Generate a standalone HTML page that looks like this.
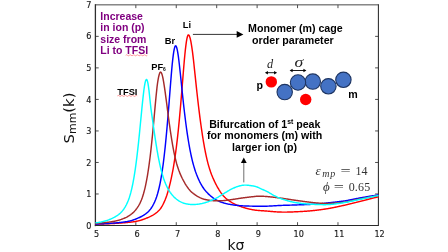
<!DOCTYPE html>
<html><head><meta charset="utf-8"><title>Structure factor</title>
<style>
html,body{margin:0;padding:0;background:#fff}
svg{display:block}
.dv{font-family:"DejaVu Sans","Liberation Sans",sans-serif}
.ab{font-family:"Liberation Sans",sans-serif;font-weight:bold}
.ms{font-family:"Liberation Serif","DejaVu Serif",serif}
</style></head><body>
<svg width="448" height="252" viewBox="0 0 448 252">
<rect width="448" height="252" fill="#fff"/>
<g stroke="#222" stroke-width="0.8" fill="none"><path d="M135.83,225.50 v-3.3 M135.83,4.85 v3.3"/><path d="M176.26,225.50 v-3.3 M176.26,4.85 v3.3"/><path d="M216.69,225.50 v-3.3 M216.69,4.85 v3.3"/><path d="M257.11,225.50 v-3.3 M257.11,4.85 v3.3"/><path d="M297.54,225.50 v-3.3 M297.54,4.85 v3.3"/><path d="M337.97,225.50 v-3.3 M337.97,4.85 v3.3"/><path d="M95.40,193.98 h3.3 M378.40,193.98 h-3.3"/><path d="M95.40,162.46 h3.3 M378.40,162.46 h-3.3"/><path d="M95.40,130.94 h3.3 M378.40,130.94 h-3.3"/><path d="M95.40,99.41 h3.3 M378.40,99.41 h-3.3"/><path d="M95.40,67.89 h3.3 M378.40,67.89 h-3.3"/><path d="M95.40,36.37 h3.3 M378.40,36.37 h-3.3"/></g>
<path d="M95.40,4.85 H378.40" fill="none" stroke="#4a4a4a" stroke-width="1"/>
<path d="M378.40,4.85 V225.50 H95.40" fill="none" stroke="#2a2a2a" stroke-width="1.05" stroke-linecap="square"/>
<path d="M95.40,225.50 V4.85" fill="none" stroke="#2e2e2e" stroke-width="1.3" stroke-linecap="square"/>
<g>
<path d="M95.40,224.19 L95.91,224.17 L96.41,224.16 L96.92,224.14 L97.42,224.13 L97.93,224.11 L98.43,224.10 L98.94,224.08 L99.44,224.07 L99.95,224.05 L100.45,224.03 L100.96,224.02 L101.46,224.00 L101.97,223.98 L102.48,223.96 L102.98,223.95 L103.49,223.93 L103.99,223.91 L104.50,223.89 L105.00,223.87 L105.51,223.85 L106.01,223.83 L106.52,223.81 L107.02,223.79 L107.53,223.77 L108.03,223.75 L108.54,223.72 L109.04,223.70 L109.55,223.68 L110.06,223.66 L110.56,223.63 L111.07,223.61 L111.57,223.58 L112.08,223.56 L112.58,223.53 L113.09,223.51 L113.59,223.48 L114.10,223.45 L114.60,223.42 L115.11,223.40 L115.61,223.37 L116.12,223.34 L116.63,223.31 L117.13,223.28 L117.64,223.24 L118.14,223.21 L118.65,223.18 L119.15,223.15 L119.66,223.11 L120.16,223.08 L120.67,223.04 L121.17,223.00 L121.68,222.97 L122.18,222.93 L122.69,222.89 L123.19,222.85 L123.70,222.81 L124.21,222.77 L124.71,222.72 L125.22,222.68 L125.72,222.63 L126.23,222.59 L126.73,222.54 L127.24,222.49 L127.74,222.44 L128.25,222.39 L128.75,222.34 L129.26,222.29 L129.76,222.23 L130.27,222.18 L130.78,222.12 L131.28,222.06 L131.79,222.00 L132.29,221.94 L132.80,221.87 L133.30,221.81 L133.81,221.74 L134.31,221.67 L134.82,221.60 L135.32,221.51 L135.83,221.43 L136.33,221.33 L136.84,221.23 L137.34,221.12 L137.85,221.01 L138.36,220.89 L138.86,220.76 L139.37,220.63 L139.87,220.49 L140.38,220.34 L140.88,220.19 L141.39,220.03 L141.89,219.87 L142.40,219.70 L142.90,219.53 L143.41,219.35 L143.91,219.16 L144.42,218.97 L144.93,218.78 L145.43,218.58 L145.94,218.38 L146.44,218.18 L146.95,217.97 L147.45,217.76 L147.96,217.55 L148.46,217.33 L148.97,217.11 L149.47,216.88 L149.98,216.65 L150.48,216.40 L150.99,216.15 L151.49,215.89 L152.00,215.62 L152.51,215.34 L153.01,215.05 L153.52,214.75 L154.02,214.43 L154.53,214.10 L155.03,213.75 L155.54,213.39 L156.04,213.01 L156.55,212.61 L157.05,212.20 L157.56,211.75 L158.06,211.29 L158.57,210.80 L159.08,210.28 L159.58,209.73 L160.09,209.13 L160.59,208.46 L161.10,207.74 L161.60,206.96 L162.11,206.12 L162.61,205.21 L163.12,204.25 L163.62,203.24 L164.13,202.16 L164.63,201.04 L165.14,199.85 L165.64,198.56 L166.15,197.19 L166.66,195.73 L167.16,194.18 L167.67,192.54 L168.17,190.83 L168.68,189.03 L169.18,187.14 L169.69,185.16 L170.19,183.07 L170.70,180.88 L171.20,178.60 L171.71,176.21 L172.21,173.69 L172.72,171.05 L173.23,168.27 L173.73,165.33 L174.24,162.23 L174.74,158.95 L175.25,155.49 L175.75,151.83 L176.26,147.97 L176.76,143.89 L177.27,139.59 L177.77,135.08 L178.28,130.33 L178.78,125.34 L179.29,120.12 L179.79,114.68 L180.30,109.03 L180.81,103.18 L181.31,97.15 L181.82,90.98 L182.32,84.73 L182.83,78.45 L183.33,72.19 L183.84,66.01 L184.34,60.14 L184.85,54.74 L185.35,49.91 L185.86,45.60 L186.36,41.91 L186.87,38.92 L187.38,36.73 L187.88,35.37 L188.39,34.90 L188.89,35.17 L189.40,36.00 L189.90,37.38 L190.41,39.29 L190.91,41.69 L191.42,44.54 L191.92,47.81 L192.43,51.43 L192.93,55.38 L193.44,59.68 L193.94,64.28 L194.45,69.07 L194.96,73.90 L195.46,78.69 L195.97,83.43 L196.47,88.11 L196.98,92.71 L197.48,97.23 L197.99,101.67 L198.49,105.98 L199.00,110.14 L199.50,114.17 L200.01,118.06 L200.51,121.85 L201.02,125.52 L201.53,129.08 L202.03,132.52 L202.54,135.82 L203.04,138.99 L203.55,142.03 L204.05,144.96 L204.56,147.77 L205.06,150.45 L205.57,153.00 L206.07,155.42 L206.58,157.70 L207.08,159.86 L207.59,161.91 L208.09,163.84 L208.60,165.65 L209.11,167.37 L209.61,168.99 L210.12,170.53 L210.62,172.01 L211.13,173.41 L211.63,174.74 L212.14,176.01 L212.64,177.23 L213.15,178.40 L213.65,179.54 L214.16,180.66 L214.66,181.74 L215.17,182.79 L215.68,183.80 L216.18,184.78 L216.69,185.73 L217.19,186.65 L217.70,187.54 L218.20,188.40 L218.71,189.24 L219.21,190.06 L219.72,190.85 L220.22,191.62 L220.73,192.36 L221.23,193.08 L221.74,193.77 L222.24,194.43 L222.75,195.07 L223.26,195.68 L223.76,196.25 L224.27,196.80 L224.77,197.32 L225.28,197.81 L225.78,198.28 L226.29,198.72 L226.79,199.14 L227.30,199.55 L227.80,199.93 L228.31,200.30 L228.81,200.66 L229.32,201.00 L229.83,201.33 L230.33,201.64 L230.84,201.95 L231.34,202.25 L231.85,202.55 L232.35,202.84 L232.86,203.12 L233.36,203.39 L233.87,203.65 L234.37,203.91 L234.88,204.15 L235.38,204.39 L235.89,204.62 L236.39,204.85 L236.90,205.06 L237.41,205.28 L237.91,205.48 L238.42,205.68 L238.92,205.88 L239.43,206.07 L239.93,206.26 L240.44,206.44 L240.94,206.62 L241.45,206.79 L241.95,206.97 L242.46,207.14 L242.96,207.30 L243.47,207.46 L243.98,207.62 L244.48,207.77 L244.99,207.92 L245.49,208.07 L246.00,208.21 L246.50,208.35 L247.01,208.48 L247.51,208.61 L248.02,208.73 L248.52,208.85 L249.03,208.97 L249.53,209.09 L250.04,209.20 L250.54,209.31 L251.05,209.41 L251.56,209.51 L252.06,209.61 L252.57,209.70 L253.07,209.79 L253.58,209.88 L254.08,209.96 L254.59,210.04 L255.09,210.11 L255.60,210.18 L256.10,210.24 L256.61,210.30 L257.11,210.36 L257.62,210.40 L258.13,210.45 L258.63,210.49 L259.14,210.54 L259.64,210.57 L260.15,210.61 L260.65,210.65 L261.16,210.68 L261.66,210.71 L262.17,210.75 L262.67,210.78 L263.18,210.81 L263.68,210.84 L264.19,210.88 L264.69,210.91 L265.20,210.95 L265.71,210.99 L266.21,211.02 L266.72,211.06 L267.22,211.11 L267.73,211.15 L268.23,211.19 L268.74,211.24 L269.24,211.28 L269.75,211.32 L270.25,211.37 L270.76,211.41 L271.26,211.46 L271.77,211.50 L272.28,211.54 L272.78,211.59 L273.29,211.63 L273.79,211.67 L274.30,211.71 L274.80,211.75 L275.31,211.78 L275.81,211.82 L276.32,211.85 L276.82,211.89 L277.33,211.92 L277.83,211.95 L278.34,211.97 L278.84,212.00 L279.35,212.02 L279.86,212.04 L280.36,212.06 L280.87,212.08 L281.37,212.09 L281.88,212.10 L282.38,212.11 L282.89,212.12 L283.39,212.12 L283.90,212.13 L284.40,212.13 L284.91,212.12 L285.41,212.12 L285.92,212.12 L286.43,212.11 L286.93,212.10 L287.44,212.09 L287.94,212.08 L288.45,212.07 L288.95,212.05 L289.46,212.04 L289.96,212.02 L290.47,212.01 L290.97,211.99 L291.48,211.97 L291.98,211.95 L292.49,211.93 L292.99,211.91 L293.50,211.89 L294.01,211.87 L294.51,211.84 L295.02,211.82 L295.52,211.80 L296.03,211.77 L296.53,211.75 L297.04,211.73 L297.54,211.70 L298.05,211.68 L298.55,211.65 L299.06,211.63 L299.56,211.60 L300.07,211.58 L300.58,211.55 L301.08,211.52 L301.59,211.49 L302.09,211.46 L302.60,211.43 L303.10,211.40 L303.61,211.37 L304.11,211.34 L304.62,211.30 L305.12,211.27 L305.63,211.23 L306.13,211.20 L306.64,211.16 L307.14,211.12 L307.65,211.08 L308.16,211.04 L308.66,211.00 L309.17,210.96 L309.67,210.92 L310.18,210.87 L310.68,210.82 L311.19,210.78 L311.69,210.73 L312.20,210.68 L312.70,210.63 L313.21,210.58 L313.71,210.53 L314.22,210.47 L314.73,210.42 L315.23,210.36 L315.74,210.30 L316.24,210.24 L316.75,210.18 L317.25,210.12 L317.76,210.06 L318.26,210.00 L318.77,209.93 L319.27,209.87 L319.78,209.80 L320.28,209.73 L320.79,209.67 L321.29,209.60 L321.80,209.53 L322.31,209.46 L322.81,209.38 L323.32,209.31 L323.82,209.23 L324.33,209.16 L324.83,209.08 L325.34,209.01 L325.84,208.93 L326.35,208.85 L326.85,208.77 L327.36,208.69 L327.86,208.61 L328.37,208.52 L328.88,208.44 L329.38,208.35 L329.89,208.26 L330.39,208.17 L330.90,208.08 L331.40,207.99 L331.91,207.89 L332.41,207.79 L332.92,207.70 L333.42,207.60 L333.93,207.50 L334.43,207.40 L334.94,207.29 L335.44,207.19 L335.95,207.08 L336.46,206.98 L336.96,206.87 L337.47,206.76 L337.97,206.66 L338.48,206.55 L338.98,206.44 L339.49,206.33 L339.99,206.22 L340.50,206.11 L341.00,206.00 L341.51,205.89 L342.01,205.77 L342.52,205.66 L343.03,205.55 L343.53,205.44 L344.04,205.33 L344.54,205.21 L345.05,205.10 L345.55,204.98 L346.06,204.86 L346.56,204.74 L347.07,204.62 L347.57,204.50 L348.08,204.38 L348.58,204.26 L349.09,204.13 L349.59,204.01 L350.10,203.89 L350.61,203.76 L351.11,203.63 L351.62,203.51 L352.12,203.38 L352.63,203.25 L353.13,203.13 L353.64,203.00 L354.14,202.87 L354.65,202.74 L355.15,202.61 L355.66,202.49 L356.16,202.36 L356.67,202.23 L357.18,202.10 L357.68,201.98 L358.19,201.85 L358.69,201.73 L359.20,201.60 L359.70,201.47 L360.21,201.35 L360.71,201.22 L361.22,201.10 L361.72,200.97 L362.23,200.84 L362.73,200.72 L363.24,200.59 L363.74,200.46 L364.25,200.33 L364.76,200.20 L365.26,200.08 L365.77,199.95 L366.27,199.82 L366.78,199.69 L367.28,199.56 L367.79,199.43 L368.29,199.31 L368.80,199.18 L369.30,199.05 L369.81,198.92 L370.31,198.79 L370.82,198.67 L371.33,198.54 L371.83,198.42 L372.34,198.29 L372.84,198.17 L373.35,198.04 L373.85,197.92 L374.36,197.79 L374.86,197.67 L375.37,197.55 L375.87,197.43 L376.38,197.31 L376.88,197.19 L377.39,197.07 L377.89,196.95 L378.40,196.84" fill="none" stroke="#ff0000" stroke-width="1.45" stroke-linejoin="round"/>
<path d="M95.40,224.04 L95.91,224.02 L96.41,224.00 L96.92,223.98 L97.42,223.96 L97.93,223.94 L98.43,223.92 L98.94,223.90 L99.44,223.88 L99.95,223.86 L100.45,223.84 L100.96,223.82 L101.46,223.79 L101.97,223.77 L102.48,223.75 L102.98,223.72 L103.49,223.70 L103.99,223.67 L104.50,223.65 L105.00,223.62 L105.51,223.59 L106.01,223.56 L106.52,223.54 L107.02,223.51 L107.53,223.48 L108.03,223.45 L108.54,223.42 L109.04,223.39 L109.55,223.35 L110.06,223.32 L110.56,223.29 L111.07,223.25 L111.57,223.22 L112.08,223.18 L112.58,223.15 L113.09,223.11 L113.59,223.07 L114.10,223.03 L114.60,222.99 L115.11,222.95 L115.61,222.91 L116.12,222.86 L116.63,222.82 L117.13,222.77 L117.64,222.72 L118.14,222.68 L118.65,222.63 L119.15,222.58 L119.66,222.52 L120.16,222.47 L120.67,222.41 L121.17,222.36 L121.68,222.30 L122.18,222.24 L122.69,222.18 L123.19,222.12 L123.70,222.05 L124.21,221.98 L124.71,221.91 L125.22,221.84 L125.72,221.77 L126.23,221.70 L126.73,221.62 L127.24,221.53 L127.74,221.43 L128.25,221.33 L128.75,221.23 L129.26,221.11 L129.76,220.99 L130.27,220.86 L130.78,220.72 L131.28,220.58 L131.79,220.43 L132.29,220.27 L132.80,220.11 L133.30,219.94 L133.81,219.76 L134.31,219.58 L134.82,219.39 L135.32,219.20 L135.83,219.00 L136.33,218.79 L136.84,218.58 L137.34,218.37 L137.85,218.16 L138.36,217.94 L138.86,217.72 L139.37,217.49 L139.87,217.26 L140.38,217.02 L140.88,216.77 L141.39,216.51 L141.89,216.25 L142.40,215.97 L142.90,215.68 L143.41,215.38 L143.91,215.06 L144.42,214.73 L144.93,214.39 L145.43,214.03 L145.94,213.65 L146.44,213.25 L146.95,212.83 L147.45,212.39 L147.96,211.92 L148.46,211.43 L148.97,210.91 L149.47,210.36 L149.98,209.78 L150.48,209.16 L150.99,208.48 L151.49,207.74 L152.00,206.96 L152.51,206.11 L153.01,205.20 L153.52,204.24 L154.02,203.21 L154.53,202.12 L155.03,200.96 L155.54,199.72 L156.04,198.38 L156.55,196.95 L157.05,195.41 L157.56,193.76 L158.06,191.98 L158.57,190.06 L159.08,187.98 L159.58,185.75 L160.09,183.34 L160.59,180.74 L161.10,177.94 L161.60,174.93 L162.11,171.71 L162.61,168.26 L163.12,164.57 L163.62,160.63 L164.13,156.44 L164.63,152.00 L165.14,147.30 L165.64,142.34 L166.15,137.14 L166.66,131.69 L167.16,126.00 L167.67,120.09 L168.17,113.99 L168.68,107.73 L169.18,101.34 L169.69,94.88 L170.19,88.43 L170.70,82.06 L171.20,75.88 L171.71,69.90 L172.21,64.40 L172.72,59.62 L173.23,55.43 L173.73,51.89 L174.24,49.10 L174.74,47.12 L175.25,46.03 L175.75,45.83 L176.26,46.44 L176.76,47.79 L177.27,49.86 L177.77,52.58 L178.28,55.91 L178.78,59.75 L179.29,64.02 L179.79,68.55 L180.30,73.26 L180.81,78.11 L181.31,83.05 L181.82,87.96 L182.32,92.82 L182.83,97.60 L183.33,102.29 L183.84,106.83 L184.34,111.22 L184.85,115.45 L185.35,119.53 L185.86,123.47 L186.36,127.24 L186.87,130.85 L187.38,134.30 L187.88,137.60 L188.39,140.75 L188.89,143.75 L189.40,146.62 L189.90,149.36 L190.41,151.95 L190.91,154.42 L191.42,156.75 L191.92,158.96 L192.43,161.05 L192.93,163.03 L193.44,164.90 L193.94,166.66 L194.45,168.33 L194.96,169.92 L195.46,171.44 L195.97,172.88 L196.47,174.26 L196.98,175.57 L197.48,176.82 L197.99,178.02 L198.49,179.16 L199.00,180.26 L199.50,181.31 L200.01,182.32 L200.51,183.29 L201.02,184.22 L201.53,185.11 L202.03,185.95 L202.54,186.76 L203.04,187.53 L203.55,188.26 L204.05,188.96 L204.56,189.63 L205.06,190.27 L205.57,190.89 L206.07,191.48 L206.58,192.04 L207.08,192.59 L207.59,193.12 L208.09,193.63 L208.60,194.12 L209.11,194.60 L209.61,195.06 L210.12,195.51 L210.62,195.95 L211.13,196.38 L211.63,196.79 L212.14,197.19 L212.64,197.57 L213.15,197.95 L213.65,198.30 L214.16,198.65 L214.66,198.98 L215.17,199.29 L215.68,199.60 L216.18,199.89 L216.69,200.16 L217.19,200.43 L217.70,200.68 L218.20,200.92 L218.71,201.14 L219.21,201.36 L219.72,201.57 L220.22,201.77 L220.73,201.96 L221.23,202.15 L221.74,202.32 L222.24,202.49 L222.75,202.66 L223.26,202.81 L223.76,202.97 L224.27,203.12 L224.77,203.26 L225.28,203.40 L225.78,203.53 L226.29,203.65 L226.79,203.77 L227.30,203.89 L227.80,204.00 L228.31,204.10 L228.81,204.20 L229.32,204.30 L229.83,204.39 L230.33,204.48 L230.84,204.57 L231.34,204.65 L231.85,204.73 L232.35,204.81 L232.86,204.89 L233.36,204.96 L233.87,205.03 L234.37,205.09 L234.88,205.16 L235.38,205.22 L235.89,205.28 L236.39,205.33 L236.90,205.38 L237.41,205.43 L237.91,205.48 L238.42,205.53 L238.92,205.57 L239.43,205.61 L239.93,205.65 L240.44,205.69 L240.94,205.72 L241.45,205.76 L241.95,205.79 L242.46,205.82 L242.96,205.85 L243.47,205.88 L243.98,205.90 L244.48,205.92 L244.99,205.95 L245.49,205.97 L246.00,205.99 L246.50,206.01 L247.01,206.02 L247.51,206.04 L248.02,206.06 L248.52,206.07 L249.03,206.09 L249.53,206.10 L250.04,206.11 L250.54,206.12 L251.05,206.13 L251.56,206.14 L252.06,206.15 L252.57,206.16 L253.07,206.17 L253.58,206.18 L254.08,206.19 L254.59,206.19 L255.09,206.20 L255.60,206.21 L256.10,206.22 L256.61,206.22 L257.11,206.23 L257.62,206.23 L258.13,206.24 L258.63,206.24 L259.14,206.25 L259.64,206.25 L260.15,206.25 L260.65,206.26 L261.16,206.26 L261.66,206.26 L262.17,206.25 L262.67,206.25 L263.18,206.25 L263.68,206.24 L264.19,206.23 L264.69,206.23 L265.20,206.22 L265.71,206.20 L266.21,206.19 L266.72,206.18 L267.22,206.16 L267.73,206.14 L268.23,206.12 L268.74,206.10 L269.24,206.07 L269.75,206.05 L270.25,206.02 L270.76,206.00 L271.26,205.97 L271.77,205.94 L272.28,205.91 L272.78,205.88 L273.29,205.85 L273.79,205.82 L274.30,205.79 L274.80,205.76 L275.31,205.73 L275.81,205.70 L276.32,205.67 L276.82,205.64 L277.33,205.61 L277.83,205.59 L278.34,205.56 L278.84,205.53 L279.35,205.51 L279.86,205.48 L280.36,205.46 L280.87,205.43 L281.37,205.41 L281.88,205.39 L282.38,205.37 L282.89,205.36 L283.39,205.34 L283.90,205.32 L284.40,205.30 L284.91,205.29 L285.41,205.27 L285.92,205.26 L286.43,205.24 L286.93,205.23 L287.44,205.22 L287.94,205.20 L288.45,205.19 L288.95,205.17 L289.46,205.16 L289.96,205.15 L290.47,205.13 L290.97,205.12 L291.48,205.10 L291.98,205.09 L292.49,205.08 L292.99,205.06 L293.50,205.05 L294.01,205.03 L294.51,205.01 L295.02,205.00 L295.52,204.98 L296.03,204.96 L296.53,204.94 L297.04,204.92 L297.54,204.90 L298.05,204.88 L298.55,204.86 L299.06,204.84 L299.56,204.82 L300.07,204.80 L300.58,204.78 L301.08,204.77 L301.59,204.75 L302.09,204.73 L302.60,204.71 L303.10,204.69 L303.61,204.67 L304.11,204.66 L304.62,204.64 L305.12,204.62 L305.63,204.60 L306.13,204.58 L306.64,204.56 L307.14,204.54 L307.65,204.52 L308.16,204.50 L308.66,204.48 L309.17,204.46 L309.67,204.43 L310.18,204.41 L310.68,204.39 L311.19,204.36 L311.69,204.34 L312.20,204.31 L312.70,204.29 L313.21,204.26 L313.71,204.23 L314.22,204.20 L314.73,204.17 L315.23,204.14 L315.74,204.11 L316.24,204.08 L316.75,204.04 L317.25,204.01 L317.76,203.97 L318.26,203.94 L318.77,203.90 L319.27,203.86 L319.78,203.82 L320.28,203.78 L320.79,203.73 L321.29,203.68 L321.80,203.63 L322.31,203.58 L322.81,203.52 L323.32,203.46 L323.82,203.40 L324.33,203.34 L324.83,203.28 L325.34,203.21 L325.84,203.15 L326.35,203.09 L326.85,203.03 L327.36,202.96 L327.86,202.90 L328.37,202.84 L328.88,202.79 L329.38,202.73 L329.89,202.67 L330.39,202.61 L330.90,202.56 L331.40,202.50 L331.91,202.45 L332.41,202.39 L332.92,202.34 L333.42,202.28 L333.93,202.23 L334.43,202.17 L334.94,202.11 L335.44,202.06 L335.95,202.00 L336.46,201.94 L336.96,201.88 L337.47,201.83 L337.97,201.77 L338.48,201.70 L338.98,201.64 L339.49,201.58 L339.99,201.52 L340.50,201.45 L341.00,201.38 L341.51,201.32 L342.01,201.25 L342.52,201.17 L343.03,201.10 L343.53,201.03 L344.04,200.95 L344.54,200.87 L345.05,200.79 L345.55,200.70 L346.06,200.61 L346.56,200.53 L347.07,200.43 L347.57,200.34 L348.08,200.25 L348.58,200.15 L349.09,200.05 L349.59,199.96 L350.10,199.86 L350.61,199.76 L351.11,199.66 L351.62,199.56 L352.12,199.45 L352.63,199.35 L353.13,199.25 L353.64,199.15 L354.14,199.05 L354.65,198.95 L355.15,198.84 L355.66,198.74 L356.16,198.64 L356.67,198.55 L357.18,198.45 L357.68,198.35 L358.19,198.26 L358.69,198.16 L359.20,198.07 L359.70,197.98 L360.21,197.89 L360.71,197.80 L361.22,197.71 L361.72,197.63 L362.23,197.54 L362.73,197.45 L363.24,197.36 L363.74,197.27 L364.25,197.19 L364.76,197.10 L365.26,197.01 L365.77,196.93 L366.27,196.84 L366.78,196.76 L367.28,196.67 L367.79,196.59 L368.29,196.50 L368.80,196.42 L369.30,196.34 L369.81,196.25 L370.31,196.17 L370.82,196.09 L371.33,196.00 L371.83,195.92 L372.34,195.84 L372.84,195.76 L373.35,195.68 L373.85,195.60 L374.36,195.52 L374.86,195.44 L375.37,195.36 L375.87,195.28 L376.38,195.20 L376.88,195.12 L377.39,195.05 L377.89,194.97 L378.40,194.89" fill="none" stroke="#0000ff" stroke-width="1.45" stroke-linejoin="round"/>
<path d="M95.40,223.36 L95.91,223.32 L96.41,223.29 L96.92,223.25 L97.42,223.22 L97.93,223.18 L98.43,223.15 L98.94,223.11 L99.44,223.07 L99.95,223.03 L100.45,222.99 L100.96,222.95 L101.46,222.90 L101.97,222.86 L102.48,222.81 L102.98,222.77 L103.49,222.72 L103.99,222.67 L104.50,222.62 L105.00,222.57 L105.51,222.51 L106.01,222.46 L106.52,222.40 L107.02,222.35 L107.53,222.29 L108.03,222.23 L108.54,222.16 L109.04,222.10 L109.55,222.03 L110.06,221.97 L110.56,221.90 L111.07,221.82 L111.57,221.75 L112.08,221.67 L112.58,221.59 L113.09,221.51 L113.59,221.42 L114.10,221.32 L114.60,221.22 L115.11,221.12 L115.61,221.01 L116.12,220.89 L116.63,220.77 L117.13,220.65 L117.64,220.51 L118.14,220.38 L118.65,220.23 L119.15,220.08 L119.66,219.93 L120.16,219.77 L120.67,219.60 L121.17,219.43 L121.68,219.24 L122.18,219.06 L122.69,218.86 L123.19,218.66 L123.70,218.45 L124.21,218.24 L124.71,218.02 L125.22,217.79 L125.72,217.55 L126.23,217.30 L126.73,217.04 L127.24,216.78 L127.74,216.50 L128.25,216.21 L128.75,215.90 L129.26,215.59 L129.76,215.25 L130.27,214.91 L130.78,214.54 L131.28,214.16 L131.79,213.76 L132.29,213.34 L132.80,212.90 L133.30,212.44 L133.81,211.95 L134.31,211.43 L134.82,210.88 L135.32,210.31 L135.83,209.70 L136.33,209.06 L136.84,208.38 L137.34,207.67 L137.85,206.91 L138.36,206.10 L138.86,205.24 L139.37,204.33 L139.87,203.36 L140.38,202.31 L140.88,201.19 L141.39,199.98 L141.89,198.67 L142.40,197.25 L142.90,195.72 L143.41,194.07 L143.91,192.30 L144.42,190.38 L144.93,188.31 L145.43,186.09 L145.94,183.72 L146.44,181.17 L146.95,178.45 L147.45,175.55 L147.96,172.46 L148.46,169.17 L148.97,165.66 L149.47,161.93 L149.98,157.97 L150.48,153.79 L150.99,149.39 L151.49,144.75 L152.00,139.88 L152.51,134.80 L153.01,129.53 L153.52,124.11 L154.02,118.57 L154.53,112.97 L155.03,107.40 L155.54,101.93 L156.04,96.68 L156.55,91.60 L157.05,86.94 L157.56,82.99 L158.06,79.79 L158.57,77.12 L159.08,74.97 L159.58,73.40 L160.09,72.43 L160.59,72.10 L161.10,72.38 L161.60,73.24 L162.11,74.65 L162.61,76.60 L163.12,79.02 L163.62,81.87 L164.13,85.02 L164.63,88.40 L165.14,91.93 L165.64,95.60 L166.15,99.39 L166.66,103.28 L167.16,107.20 L167.67,111.11 L168.17,114.98 L168.68,118.80 L169.18,122.53 L169.69,126.18 L170.19,129.73 L170.70,133.16 L171.20,136.47 L171.71,139.64 L172.21,142.68 L172.72,145.60 L173.23,148.38 L173.73,151.03 L174.24,153.54 L174.74,155.91 L175.25,158.13 L175.75,160.22 L176.26,162.18 L176.76,164.02 L177.27,165.72 L177.77,167.31 L178.28,168.82 L178.78,170.25 L179.29,171.60 L179.79,172.88 L180.30,174.10 L180.81,175.26 L181.31,176.37 L181.82,177.44 L182.32,178.47 L182.83,179.46 L183.33,180.43 L183.84,181.36 L184.34,182.27 L184.85,183.16 L185.35,184.01 L185.86,184.83 L186.36,185.62 L186.87,186.38 L187.38,187.11 L187.88,187.80 L188.39,188.47 L188.89,189.12 L189.40,189.74 L189.90,190.33 L190.41,190.89 L190.91,191.41 L191.42,191.89 L191.92,192.35 L192.43,192.78 L192.93,193.18 L193.44,193.58 L193.94,193.95 L194.45,194.32 L194.96,194.68 L195.46,195.04 L195.97,195.38 L196.47,195.72 L196.98,196.04 L197.48,196.35 L197.99,196.65 L198.49,196.94 L199.00,197.21 L199.50,197.47 L200.01,197.72 L200.51,197.95 L201.02,198.16 L201.53,198.36 L202.03,198.55 L202.54,198.73 L203.04,198.89 L203.55,199.05 L204.05,199.19 L204.56,199.33 L205.06,199.46 L205.57,199.58 L206.07,199.69 L206.58,199.80 L207.08,199.90 L207.59,199.99 L208.09,200.08 L208.60,200.17 L209.11,200.25 L209.61,200.32 L210.12,200.39 L210.62,200.45 L211.13,200.50 L211.63,200.55 L212.14,200.60 L212.64,200.64 L213.15,200.67 L213.65,200.70 L214.16,200.73 L214.66,200.75 L215.17,200.77 L215.68,200.78 L216.18,200.80 L216.69,200.81 L217.19,200.81 L217.70,200.81 L218.20,200.81 L218.71,200.81 L219.21,200.80 L219.72,200.78 L220.22,200.77 L220.73,200.75 L221.23,200.73 L221.74,200.70 L222.24,200.67 L222.75,200.64 L223.26,200.61 L223.76,200.57 L224.27,200.53 L224.77,200.49 L225.28,200.44 L225.78,200.39 L226.29,200.33 L226.79,200.27 L227.30,200.21 L227.80,200.14 L228.31,200.07 L228.81,200.00 L229.32,199.93 L229.83,199.86 L230.33,199.78 L230.84,199.71 L231.34,199.64 L231.85,199.56 L232.35,199.49 L232.86,199.41 L233.36,199.34 L233.87,199.26 L234.37,199.18 L234.88,199.10 L235.38,199.02 L235.89,198.94 L236.39,198.86 L236.90,198.78 L237.41,198.69 L237.91,198.61 L238.42,198.53 L238.92,198.45 L239.43,198.38 L239.93,198.30 L240.44,198.23 L240.94,198.16 L241.45,198.09 L241.95,198.02 L242.46,197.95 L242.96,197.88 L243.47,197.81 L243.98,197.74 L244.48,197.68 L244.99,197.61 L245.49,197.55 L246.00,197.49 L246.50,197.42 L247.01,197.36 L247.51,197.31 L248.02,197.25 L248.52,197.20 L249.03,197.14 L249.53,197.09 L250.04,197.03 L250.54,196.97 L251.05,196.90 L251.56,196.84 L252.06,196.78 L252.57,196.72 L253.07,196.66 L253.58,196.60 L254.08,196.54 L254.59,196.49 L255.09,196.43 L255.60,196.39 L256.10,196.34 L256.61,196.30 L257.11,196.27 L257.62,196.24 L258.13,196.21 L258.63,196.19 L259.14,196.18 L259.64,196.18 L260.15,196.18 L260.65,196.19 L261.16,196.21 L261.66,196.23 L262.17,196.25 L262.67,196.28 L263.18,196.30 L263.68,196.33 L264.19,196.36 L264.69,196.40 L265.20,196.43 L265.71,196.47 L266.21,196.51 L266.72,196.55 L267.22,196.59 L267.73,196.63 L268.23,196.67 L268.74,196.72 L269.24,196.77 L269.75,196.82 L270.25,196.87 L270.76,196.92 L271.26,196.97 L271.77,197.02 L272.28,197.08 L272.78,197.14 L273.29,197.19 L273.79,197.25 L274.30,197.31 L274.80,197.37 L275.31,197.43 L275.81,197.49 L276.32,197.55 L276.82,197.61 L277.33,197.68 L277.83,197.74 L278.34,197.81 L278.84,197.87 L279.35,197.94 L279.86,198.00 L280.36,198.07 L280.87,198.14 L281.37,198.21 L281.88,198.27 L282.38,198.34 L282.89,198.41 L283.39,198.49 L283.90,198.56 L284.40,198.63 L284.91,198.71 L285.41,198.78 L285.92,198.86 L286.43,198.94 L286.93,199.01 L287.44,199.09 L287.94,199.17 L288.45,199.25 L288.95,199.32 L289.46,199.40 L289.96,199.48 L290.47,199.56 L290.97,199.64 L291.48,199.71 L291.98,199.79 L292.49,199.87 L292.99,199.94 L293.50,200.02 L294.01,200.09 L294.51,200.17 L295.02,200.24 L295.52,200.31 L296.03,200.39 L296.53,200.46 L297.04,200.52 L297.54,200.59 L298.05,200.66 L298.55,200.73 L299.06,200.80 L299.56,200.86 L300.07,200.93 L300.58,201.00 L301.08,201.07 L301.59,201.14 L302.09,201.21 L302.60,201.28 L303.10,201.35 L303.61,201.42 L304.11,201.49 L304.62,201.56 L305.12,201.62 L305.63,201.69 L306.13,201.76 L306.64,201.82 L307.14,201.89 L307.65,201.96 L308.16,202.02 L308.66,202.08 L309.17,202.15 L309.67,202.21 L310.18,202.27 L310.68,202.33 L311.19,202.39 L311.69,202.45 L312.20,202.50 L312.70,202.56 L313.21,202.61 L313.71,202.67 L314.22,202.72 L314.73,202.77 L315.23,202.82 L315.74,202.86 L316.24,202.91 L316.75,202.95 L317.25,203.00 L317.76,203.04 L318.26,203.08 L318.77,203.12 L319.27,203.15 L319.78,203.19 L320.28,203.22 L320.79,203.25 L321.29,203.27 L321.80,203.30 L322.31,203.32 L322.81,203.34 L323.32,203.36 L323.82,203.37 L324.33,203.38 L324.83,203.39 L325.34,203.40 L325.84,203.40 L326.35,203.41 L326.85,203.41 L327.36,203.40 L327.86,203.40 L328.37,203.39 L328.88,203.39 L329.38,203.38 L329.89,203.36 L330.39,203.35 L330.90,203.33 L331.40,203.31 L331.91,203.29 L332.41,203.27 L332.92,203.25 L333.42,203.22 L333.93,203.20 L334.43,203.17 L334.94,203.13 L335.44,203.10 L335.95,203.07 L336.46,203.03 L336.96,202.99 L337.47,202.95 L337.97,202.91 L338.48,202.86 L338.98,202.82 L339.49,202.77 L339.99,202.72 L340.50,202.67 L341.00,202.61 L341.51,202.56 L342.01,202.50 L342.52,202.44 L343.03,202.38 L343.53,202.32 L344.04,202.26 L344.54,202.19 L345.05,202.11 L345.55,202.03 L346.06,201.95 L346.56,201.86 L347.07,201.76 L347.57,201.67 L348.08,201.57 L348.58,201.46 L349.09,201.35 L349.59,201.25 L350.10,201.13 L350.61,201.02 L351.11,200.91 L351.62,200.79 L352.12,200.67 L352.63,200.55 L353.13,200.44 L353.64,200.32 L354.14,200.20 L354.65,200.08 L355.15,199.96 L355.66,199.85 L356.16,199.73 L356.67,199.62 L357.18,199.51 L357.68,199.40 L358.19,199.29 L358.69,199.18 L359.20,199.08 L359.70,198.98 L360.21,198.88 L360.71,198.78 L361.22,198.69 L361.72,198.59 L362.23,198.49 L362.73,198.40 L363.24,198.30 L363.74,198.21 L364.25,198.11 L364.76,198.02 L365.26,197.92 L365.77,197.83 L366.27,197.73 L366.78,197.64 L367.28,197.55 L367.79,197.45 L368.29,197.36 L368.80,197.27 L369.30,197.18 L369.81,197.09 L370.31,197.00 L370.82,196.91 L371.33,196.82 L371.83,196.73 L372.34,196.64 L372.84,196.55 L373.35,196.46 L373.85,196.37 L374.36,196.29 L374.86,196.20 L375.37,196.11 L375.87,196.03 L376.38,195.94 L376.88,195.85 L377.39,195.77 L377.89,195.68 L378.40,195.60" fill="none" stroke="#a52a2a" stroke-width="1.45" stroke-linejoin="round"/>
<path d="M95.40,222.86 L95.91,222.81 L96.41,222.75 L96.92,222.69 L97.42,222.62 L97.93,222.55 L98.43,222.47 L98.94,222.38 L99.44,222.29 L99.95,222.19 L100.45,222.09 L100.96,221.99 L101.46,221.88 L101.97,221.77 L102.48,221.66 L102.98,221.55 L103.49,221.43 L103.99,221.30 L104.50,221.17 L105.00,221.03 L105.51,220.88 L106.01,220.73 L106.52,220.57 L107.02,220.41 L107.53,220.24 L108.03,220.06 L108.54,219.88 L109.04,219.69 L109.55,219.49 L110.06,219.29 L110.56,219.07 L111.07,218.85 L111.57,218.63 L112.08,218.40 L112.58,218.15 L113.09,217.91 L113.59,217.65 L114.10,217.39 L114.60,217.12 L115.11,216.83 L115.61,216.54 L116.12,216.23 L116.63,215.91 L117.13,215.58 L117.64,215.23 L118.14,214.86 L118.65,214.48 L119.15,214.07 L119.66,213.65 L120.16,213.20 L120.67,212.72 L121.17,212.22 L121.68,211.69 L122.18,211.13 L122.69,210.53 L123.19,209.89 L123.70,209.20 L124.21,208.47 L124.71,207.70 L125.22,206.86 L125.72,205.97 L126.23,205.02 L126.73,204.00 L127.24,202.91 L127.74,201.74 L128.25,200.49 L128.75,199.14 L129.26,197.69 L129.76,196.13 L130.27,194.44 L130.78,192.63 L131.28,190.67 L131.79,188.55 L132.29,186.27 L132.80,183.82 L133.30,181.19 L133.81,178.39 L134.31,175.39 L134.82,172.18 L135.32,168.78 L135.83,165.18 L136.33,161.37 L136.84,157.36 L137.34,153.13 L137.85,148.69 L138.36,144.07 L138.86,139.28 L139.37,134.31 L139.87,129.20 L140.38,124.01 L140.88,118.81 L141.39,113.60 L141.89,108.43 L142.40,103.39 L142.90,98.57 L143.41,94.06 L143.91,89.98 L144.42,86.43 L144.93,83.51 L145.43,81.33 L145.94,79.94 L146.44,79.41 L146.95,79.79 L147.45,81.15 L147.96,83.43 L148.46,86.56 L148.97,90.40 L149.47,94.85 L149.98,99.74 L150.48,104.54 L150.99,108.84 L151.49,112.67 L152.00,116.18 L152.51,119.60 L153.01,123.18 L153.52,126.88 L154.02,130.46 L154.53,133.93 L155.03,137.32 L155.54,140.61 L156.04,143.84 L156.55,146.99 L157.05,150.04 L157.56,152.97 L158.06,155.77 L158.57,158.42 L159.08,160.93 L159.58,163.32 L160.09,165.59 L160.59,167.75 L161.10,169.80 L161.60,171.74 L162.11,173.58 L162.61,175.32 L163.12,176.96 L163.62,178.50 L164.13,179.96 L164.63,181.33 L165.14,182.62 L165.64,183.85 L166.15,185.00 L166.66,186.10 L167.16,187.13 L167.67,188.11 L168.17,189.04 L168.68,189.92 L169.18,190.76 L169.69,191.55 L170.19,192.31 L170.70,193.02 L171.20,193.70 L171.71,194.35 L172.21,194.97 L172.72,195.56 L173.23,196.12 L173.73,196.65 L174.24,197.16 L174.74,197.64 L175.25,198.10 L175.75,198.54 L176.26,198.96 L176.76,199.36 L177.27,199.74 L177.77,200.10 L178.28,200.45 L178.78,200.78 L179.29,201.10 L179.79,201.40 L180.30,201.69 L180.81,201.96 L181.31,202.21 L181.82,202.44 L182.32,202.66 L182.83,202.87 L183.33,203.05 L183.84,203.22 L184.34,203.38 L184.85,203.52 L185.35,203.65 L185.86,203.77 L186.36,203.88 L186.87,203.98 L187.38,204.07 L187.88,204.15 L188.39,204.22 L188.89,204.28 L189.40,204.34 L189.90,204.38 L190.41,204.42 L190.91,204.45 L191.42,204.47 L191.92,204.49 L192.43,204.50 L192.93,204.50 L193.44,204.50 L193.94,204.49 L194.45,204.47 L194.96,204.45 L195.46,204.42 L195.97,204.39 L196.47,204.35 L196.98,204.30 L197.48,204.25 L197.99,204.19 L198.49,204.12 L199.00,204.06 L199.50,203.98 L200.01,203.90 L200.51,203.82 L201.02,203.73 L201.53,203.63 L202.03,203.53 L202.54,203.41 L203.04,203.29 L203.55,203.16 L204.05,203.02 L204.56,202.87 L205.06,202.72 L205.57,202.56 L206.07,202.41 L206.58,202.24 L207.08,202.07 L207.59,201.89 L208.09,201.70 L208.60,201.50 L209.11,201.30 L209.61,201.09 L210.12,200.88 L210.62,200.67 L211.13,200.46 L211.63,200.25 L212.14,200.03 L212.64,199.81 L213.15,199.59 L213.65,199.36 L214.16,199.13 L214.66,198.90 L215.17,198.65 L215.68,198.41 L216.18,198.15 L216.69,197.89 L217.19,197.62 L217.70,197.34 L218.20,197.05 L218.71,196.75 L219.21,196.45 L219.72,196.13 L220.22,195.82 L220.73,195.50 L221.23,195.18 L221.74,194.86 L222.24,194.54 L222.75,194.22 L223.26,193.91 L223.76,193.60 L224.27,193.29 L224.77,192.99 L225.28,192.69 L225.78,192.39 L226.29,192.08 L226.79,191.77 L227.30,191.46 L227.80,191.16 L228.31,190.85 L228.81,190.55 L229.32,190.25 L229.83,189.96 L230.33,189.68 L230.84,189.41 L231.34,189.14 L231.85,188.89 L232.35,188.65 L232.86,188.42 L233.36,188.20 L233.87,187.97 L234.37,187.76 L234.88,187.54 L235.38,187.34 L235.89,187.14 L236.39,186.94 L236.90,186.76 L237.41,186.58 L237.91,186.41 L238.42,186.25 L238.92,186.10 L239.43,185.96 L239.93,185.82 L240.44,185.71 L240.94,185.60 L241.45,185.49 L241.95,185.40 L242.46,185.32 L242.96,185.24 L243.47,185.19 L243.98,185.15 L244.48,185.13 L244.99,185.12 L245.49,185.12 L246.00,185.12 L246.50,185.14 L247.01,185.16 L247.51,185.19 L248.02,185.24 L248.52,185.29 L249.03,185.35 L249.53,185.42 L250.04,185.50 L250.54,185.59 L251.05,185.67 L251.56,185.74 L252.06,185.82 L252.57,185.90 L253.07,185.98 L253.58,186.06 L254.08,186.16 L254.59,186.26 L255.09,186.38 L255.60,186.51 L256.10,186.66 L256.61,186.83 L257.11,187.02 L257.62,187.23 L258.13,187.46 L258.63,187.69 L259.14,187.92 L259.64,188.16 L260.15,188.39 L260.65,188.62 L261.16,188.85 L261.66,189.08 L262.17,189.30 L262.67,189.53 L263.18,189.76 L263.68,189.98 L264.19,190.21 L264.69,190.43 L265.20,190.66 L265.71,190.88 L266.21,191.11 L266.72,191.35 L267.22,191.61 L267.73,191.88 L268.23,192.16 L268.74,192.45 L269.24,192.75 L269.75,193.05 L270.25,193.35 L270.76,193.65 L271.26,193.95 L271.77,194.25 L272.28,194.54 L272.78,194.82 L273.29,195.09 L273.79,195.35 L274.30,195.60 L274.80,195.85 L275.31,196.11 L275.81,196.36 L276.32,196.61 L276.82,196.86 L277.33,197.10 L277.83,197.34 L278.34,197.57 L278.84,197.80 L279.35,198.02 L279.86,198.23 L280.36,198.43 L280.87,198.62 L281.37,198.80 L281.88,198.97 L282.38,199.13 L282.89,199.29 L283.39,199.46 L283.90,199.62 L284.40,199.77 L284.91,199.93 L285.41,200.09 L285.92,200.24 L286.43,200.39 L286.93,200.54 L287.44,200.69 L287.94,200.84 L288.45,200.99 L288.95,201.13 L289.46,201.27 L289.96,201.42 L290.47,201.55 L290.97,201.68 L291.48,201.80 L291.98,201.91 L292.49,202.02 L292.99,202.12 L293.50,202.22 L294.01,202.31 L294.51,202.41 L295.02,202.49 L295.52,202.58 L296.03,202.67 L296.53,202.75 L297.04,202.83 L297.54,202.92 L298.05,203.00 L298.55,203.07 L299.06,203.15 L299.56,203.21 L300.07,203.27 L300.58,203.33 L301.08,203.39 L301.59,203.44 L302.09,203.49 L302.60,203.54 L303.10,203.58 L303.61,203.63 L304.11,203.67 L304.62,203.72 L305.12,203.76 L305.63,203.80 L306.13,203.85 L306.64,203.89 L307.14,203.93 L307.65,203.97 L308.16,204.01 L308.66,204.04 L309.17,204.08 L309.67,204.12 L310.18,204.15 L310.68,204.18 L311.19,204.21 L311.69,204.25 L312.20,204.27 L312.70,204.30 L313.21,204.33 L313.71,204.36 L314.22,204.38 L314.73,204.41 L315.23,204.43 L315.74,204.45 L316.24,204.47 L316.75,204.49 L317.25,204.51 L317.76,204.53 L318.26,204.55 L318.77,204.56 L319.27,204.58 L319.78,204.59 L320.28,204.61 L320.79,204.62 L321.29,204.63 L321.80,204.64 L322.31,204.65 L322.81,204.66 L323.32,204.66 L323.82,204.67 L324.33,204.67 L324.83,204.67 L325.34,204.66 L325.84,204.66 L326.35,204.65 L326.85,204.64 L327.36,204.62 L327.86,204.60 L328.37,204.58 L328.88,204.55 L329.38,204.52 L329.89,204.49 L330.39,204.45 L330.90,204.41 L331.40,204.37 L331.91,204.32 L332.41,204.27 L332.92,204.22 L333.42,204.16 L333.93,204.11 L334.43,204.05 L334.94,203.99 L335.44,203.92 L335.95,203.86 L336.46,203.79 L336.96,203.72 L337.47,203.65 L337.97,203.58 L338.48,203.50 L338.98,203.43 L339.49,203.36 L339.99,203.28 L340.50,203.20 L341.00,203.12 L341.51,203.04 L342.01,202.97 L342.52,202.89 L343.03,202.81 L343.53,202.73 L344.04,202.65 L344.54,202.56 L345.05,202.48 L345.55,202.39 L346.06,202.29 L346.56,202.20 L347.07,202.10 L347.57,202.00 L348.08,201.90 L348.58,201.80 L349.09,201.70 L349.59,201.59 L350.10,201.48 L350.61,201.37 L351.11,201.26 L351.62,201.15 L352.12,201.04 L352.63,200.93 L353.13,200.82 L353.64,200.70 L354.14,200.59 L354.65,200.48 L355.15,200.37 L355.66,200.25 L356.16,200.14 L356.67,200.03 L357.18,199.92 L357.68,199.81 L358.19,199.70 L358.69,199.59 L359.20,199.48 L359.70,199.38 L360.21,199.27 L360.71,199.17 L361.22,199.06 L361.72,198.96 L362.23,198.85 L362.73,198.74 L363.24,198.64 L363.74,198.53 L364.25,198.42 L364.76,198.32 L365.26,198.21 L365.77,198.10 L366.27,198.00 L366.78,197.89 L367.28,197.78 L367.79,197.68 L368.29,197.57 L368.80,197.46 L369.30,197.36 L369.81,197.25 L370.31,197.15 L370.82,197.04 L371.33,196.94 L371.83,196.83 L372.34,196.73 L372.84,196.62 L373.35,196.52 L373.85,196.42 L374.36,196.31 L374.86,196.21 L375.37,196.11 L375.87,196.01 L376.38,195.91 L376.88,195.81 L377.39,195.71 L377.89,195.61 L378.40,195.51" fill="none" stroke="#00ffff" stroke-width="1.45" stroke-linejoin="round"/>
</g>
<g class="dv" font-size="8.1" fill="#1a1a1a" stroke="#1a1a1a" stroke-width="0.15"><text x="96.60" y="237.2" text-anchor="middle">5</text><text x="137.03" y="237.2" text-anchor="middle">6</text><text x="177.46" y="237.2" text-anchor="middle">7</text><text x="217.89" y="237.2" text-anchor="middle">8</text><text x="258.31" y="237.2" text-anchor="middle">9</text><text x="298.74" y="237.2" text-anchor="middle">10</text><text x="339.17" y="237.2" text-anchor="middle">11</text><text x="379.60" y="237.2" text-anchor="middle">12</text><text x="91.3" y="228.60" text-anchor="end">0</text><text x="91.3" y="197.08" text-anchor="end">1</text><text x="91.3" y="165.56" text-anchor="end">2</text><text x="91.3" y="134.04" text-anchor="end">3</text><text x="91.3" y="102.51" text-anchor="end">4</text><text x="91.3" y="70.99" text-anchor="end">5</text><text x="91.3" y="39.47" text-anchor="end">6</text><text x="91.3" y="7.95" text-anchor="end">7</text></g>
<text class="dv" font-size="14" fill="#111" x="236.0" y="250.3" text-anchor="middle">kσ</text>
<text class="dv" font-size="14.9" fill="#111" transform="translate(73.9,143.4) rotate(-90)">S<tspan font-size="10.9" dy="2.5">mm</tspan><tspan dy="-2.5">(k)</tspan></text>

<g class="ab" font-size="10.5" fill="#800080">
<text x="100.3" y="19.5">Increase</text>
<text x="100.3" y="31.1">in ion (p)</text>
<text x="100.3" y="42.7">size from</text>
<text x="100.3" y="54.3">Li to TFSI</text>
</g>
<path d="M125.7,55.3 q0.9,-1 1.8,0 t1.8,0 t1.8,0 t1.8,0 t1.8,0 t1.8,0 t1.8,0 t1.8,0 t1.8,0 t1.8,0 t1.8,0 t1.8,0" fill="none" stroke="#ff4545" stroke-width="0.55"/>
<path d="M117.4,95.9 q0.9,-1 1.8,0 t1.8,0 t1.8,0 t1.8,0 t1.8,0 t1.8,0 t1.8,0 t1.8,0 t1.8,0 t1.8,0 t1.8,0" fill="none" stroke="#ff4545" stroke-width="0.55"/>
<g class="ab" font-size="9.3" fill="#000">
<text x="117.3" y="94.7">TFSI</text>
<text x="151.2" y="69.8">PF<tspan font-size="4.9" dy="1.6">6</tspan></text>
<text x="164.8" y="43.8">Br</text>
<text x="182.8" y="27.7">Li</text>
</g>
<g class="ab" font-size="10.65" fill="#000" text-anchor="middle">
<text x="295.4" y="32">Monomer (m) cage</text>
<text x="292.9" y="43.5">order parameter</text>
<text x="264.8" y="127.5">Bifurcation of 1<tspan font-size="6.8" dy="-3.4">st</tspan><tspan dy="3.4"> peak</tspan></text>
<text x="264.7" y="139.1">for monomers (m) with</text>
<text x="264.6" y="150.5">larger ion (p)</text>
<text x="259.7" y="89.2">p</text>
<text x="353" y="98.3">m</text>
</g>
<!-- arrows -->
<path d="M192.9,34.4 H238" stroke="#111" stroke-width="0.85" fill="none"/>
<path d="M243.4,34.4 l-6.7,-3.3 v6.6 z" fill="#000"/>
<path d="M243.8,182.4 V162.5" stroke="#666" stroke-width="0.95" fill="none"/>
<path d="M243.8,157.5 l-2.9,5.4 h5.8 z" fill="#000"/>
<!-- molecule -->
<g fill="#ff0000"><circle cx="271.3" cy="81.9" r="5.7"/><circle cx="305.7" cy="99.5" r="5.7"/></g>
<g fill="#4472c4" stroke="#1d3461" stroke-width="1.1">
<circle cx="284.7" cy="92.1" r="7.7"/>
<circle cx="328.4" cy="86.3" r="7.7"/>
<circle cx="312.8" cy="81.6" r="7.7"/>
<circle cx="298" cy="82.5" r="7.7"/>
<circle cx="343.4" cy="79.8" r="7.7"/>
</g>
<g stroke="#000" stroke-width="0.9" fill="none">
<path d="M267,72.7 H275"/><path d="M292,70.5 H304"/>
</g>
<g fill="#000">
<path d="M264.9,72.7 l3,-1.8 v3.6 z M277.1,72.7 l-3,-1.8 v3.6 z"/>
<path d="M289.6,70.5 l3,-1.8 v3.6 z M306.4,70.5 l-3,-1.8 v3.6 z"/>
</g>
<g class="ms" font-style="italic" fill="#222">
<text x="266.9" y="68.3" font-size="12.3">d</text>
<text transform="translate(294.4,66.5) scale(1.25,1)" font-size="14.2">σ</text>
</g>
<g class="ms" fill="#333" font-size="12.4">
<text x="315.6" y="175" font-style="italic" font-size="13">ε</text>
<text x="322.2" y="177.4" font-style="italic" font-size="10" letter-spacing="0.8">mp</text>
<text transform="translate(340.4,175) scale(1.45,1)">=</text>
<text x="355.4" y="175" font-size="12" letter-spacing="0.2">14</text>
<text x="323" y="190.7" font-style="italic" font-size="13">ϕ</text>
<text transform="translate(333.8,190.7) scale(1.45,1)">=</text>
<text x="348.7" y="190.7" font-size="12" letter-spacing="0.15">0.65</text>
</g>
</svg>
</body></html>
